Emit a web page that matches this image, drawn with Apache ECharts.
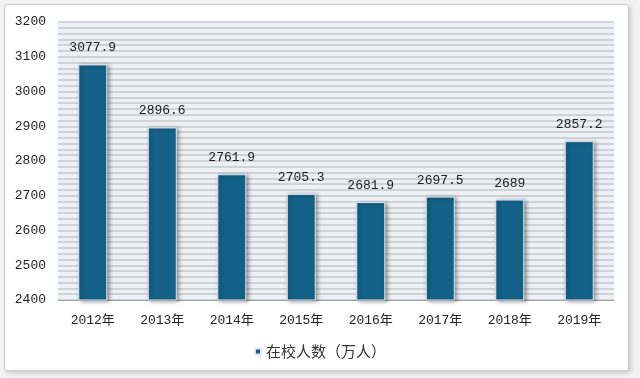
<!DOCTYPE html>
<html>
<head>
<meta charset="utf-8">
<script src="https://cdn.jsdelivr.net/npm/echarts@6/dist/echarts.min.js"></script>
<style>
  html, body { margin: 0; padding: 0; background: #f2f2f2; }
  .frame {
    position: absolute; left: 4px; top: 4px; width: 623px; height: 365px;
    background: #fff; border: 1px solid #cfcfcf; border-radius: 3px;
    box-shadow: 2px 2px 4px rgba(0,0,0,0.18);
  }
  #chart { position: absolute; left: 0; top: 0; width: 640px; height: 378px; }
</style>
</head>
<body>
<div class="frame"></div>
<div id="chart"></div>
<script>
// 年份
const years = ['2012年', '2013年', '2014年', '2015年', '2016年', '2017年', '2018年', '2019年']
// 在校人数（万人）
const students = [3077.9, 2896.6, 2761.9, 2705.3, 2681.9, 2697.5, 2689, 2857.2]
const seriesName = '在校人数（万人）'
const yMin = 2400
const yMax = 3200
const yStep = 100

const chart = echarts.init(document.getElementById('chart'))
const numFont = '"Liberation Mono", "Noto Sans CJK SC", monospace'

chart.setOption({
  animation: false,
  backgroundColor: 'transparent',
  grid: { left: 58, right: 26, top: 22, bottom: 78 },
  legend: {
    bottom: 14,
    left: 'center',
    itemWidth: 6,
    itemHeight: 6,
    icon: 'rect',
    textStyle: { fontSize: 15, color: '#333', fontFamily: '"Noto Sans CJK SC", sans-serif' },
    data: [seriesName]
  },
  xAxis: {
    type: 'category',
    data: years,
    axisLine: { lineStyle: { color: '#a0a4a8', width: 1 } },
    axisTick: { show: false },
    axisLabel: { fontSize: 13, color: '#222', margin: 14, fontFamily: numFont }
  },
  yAxis: {
    type: 'value',
    min: yMin,
    max: yMax,
    interval: yStep,
    axisLine: { show: false },
    axisTick: { show: false },
    axisLabel: { fontSize: 13, color: '#222', margin: 12, fontFamily: numFont, formatter: v => String(v) },
    splitLine: { lineStyle: { color: '#c4c9ce', width: 1.5 } },
    splitArea: { show: true, areaStyle: { color: ['#edf1f5', '#edf1f5'] } },
    minorTick: { show: false, splitNumber: 6 },
    minorSplitLine: { show: true, lineStyle: { color: '#c4c9ce', width: 1.5 } }
  },
  series: [{
    name: seriesName,
    type: 'bar',
    data: students,
    barWidth: 29,
    itemStyle: {
      color: '#14628a',
      borderColor: '#dfe8ee',
      borderWidth: 1,
      shadowColor: 'rgba(0,0,0,0.4)',
      shadowBlur: 4,
      shadowOffsetX: 2,
      shadowOffsetY: 1
    },
    label: {
      show: true,
      position: 'top',
      distance: 10,
      fontSize: 13,
      color: '#222',
      fontFamily: numFont,
      formatter: p => String(p.value)
    }
  }]
})
</script>
</body>
</html>
